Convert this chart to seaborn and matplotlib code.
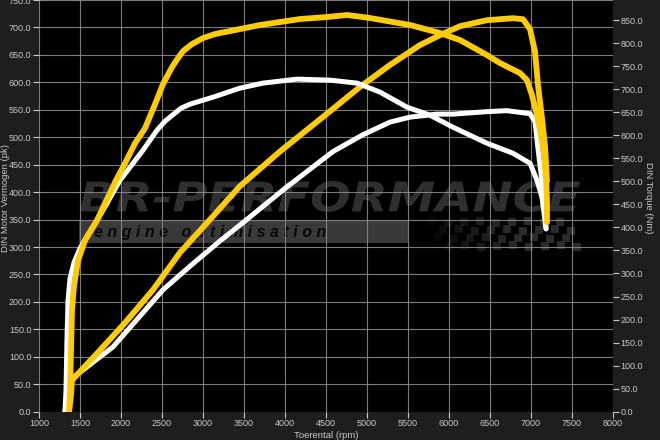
import numpy as np
import pandas as pd
import matplotlib
matplotlib.use("Agg")
import matplotlib.pyplot as plt
import seaborn as sns
from matplotlib.patches import Rectangle, PathPatch
from matplotlib.textpath import TextPath
from matplotlib.font_manager import FontProperties
from matplotlib.transforms import Affine2D

# ---- data ----
# Yellow run: torque (Nm, right axis)
y_torque_rpm = [1366, 1378, 1390, 1402, 1427, 1476, 1561, 1707, 1939, 2049, 2171, 2293, 2415, 2512, 2622,
                2695, 2756, 2866, 3000, 3146, 3329, 3695, 4183, 4512, 4756, 5037, 5524, 5890, 6134, 6463,
                6622, 6866, 6951, 7012, 7073, 7122, 7159, 7183, 7195, 7195]
y_torque_nm = [0, 45.7, 132.8, 219.6, 273.9, 328.3, 371.8, 415.2, 502.2, 539.2, 582.6, 615.2, 667.4, 710.9, 747.9,
               767.4, 782.6, 797.9, 810.9, 819.6, 826.1, 839.2, 852.2, 856.6, 860.9, 854.4, 839.2, 821.8, 806.6, 773.9,
               756.6, 734.8, 719.6, 687.0, 643.5, 600.0, 556.5, 502.2, 458.7, 410.9]
# Yellow run: power (pk, left axis)
y_power_rpm = [1366, 1390, 1402, 1744, 2049, 2390, 2720, 3085, 3451, 3939, 4512, 4915, 5280, 5646, 5890,
               6134, 6463, 6780, 6902, 6988, 7049, 7085, 7134, 7171, 7195]
y_power_pk = [0, 30.3, 57.4, 112.0, 162.0, 222.0, 290.0, 350.0, 411.0, 474.1, 542.9, 591.8, 631.6, 667.9, 686.0,
              702.3, 713.2, 716.8, 715.0, 696.9, 655.3, 595.5, 533.9, 483.2, 419.8]
# White run: torque (Nm, right axis)
w_torque_rpm = [1317, 1329, 1341, 1354, 1378, 1427, 1500, 1598, 1744, 1988, 2268, 2439, 2537, 2732, 2841,
                3122, 3451, 3732, 4146, 4549, 4878, 5159, 5488, 5768, 6049, 6463, 6780, 6988, 7073, 7134,
                7171, 7183]
w_torque_nm = [0, 45.7, 154.4, 241.3, 289.1, 323.9, 354.4, 384.8, 426.1, 502.2, 567.4, 610.9, 630.5, 658.7, 667.4,
               682.6, 702.2, 713.1, 721.8, 719.6, 713.1, 693.5, 660.9, 643.5, 617.4, 582.6, 560.9, 539.2, 502.2,
               465.2, 415.2, 397.8]
# White run: power (pk, left axis)
w_power_rpm = [1317, 1341, 1402, 1902, 2354, 2512, 2841, 3207, 3451, 3999, 4585, 4951, 5280, 5524, 5854,
               6049, 6463, 6707, 6988, 7049, 7085, 7134, 7171, 7183]
w_power_pk = [0, 30.3, 60.5, 118.0, 195.0, 222.0, 265.0, 311.0, 340.0, 406.7, 473.9, 504.6, 527.5, 536.6, 542.1,
              542.1, 546.6, 548.4, 542.9, 528.4, 479.5, 419.8, 360.1, 332.9]

x_ticks = list(range(1000, 8001, 500))
left_ticks = list(range(0, 751, 50))
right_ticks = list(range(0, 851, 50))

YELLOW = "#FFCC00"
WHITE = "#FFFFFF"
FIG_BG = "#1e1e1e"
TXT = "#c8c8c8"
GRID = "#8a8a8a"
WM = "#2f2f2f"

sns.set_style("dark")
plt.rcParams["font.family"] = ["Liberation Sans", "DejaVu Sans"]

fig = plt.figure(figsize=(6.6, 4.4), dpi=100, facecolor=FIG_BG)
ax = fig.add_axes([39 / 660, (440 - 411.7) / 440, 574 / 660, 411.7 / 440])
ax.set_facecolor("black")
ax2 = ax.twinx()

# ---- watermark (stretched logo text, band, checkered flag) ----
fp = FontProperties(family="DejaVu Sans", weight="bold", style="italic")
tp = TextPath((0, 0), "BR-PERFORMANCE", size=10, prop=fp)
ext = tp.get_extents()
bw = 500 / 574
by0, bh = (411.7 - 212) / 411.7, 31 / 411.7
tr = (Affine2D().translate(-ext.x0, -ext.y0)
      .scale(bw / ext.width, bh / ext.height)
      .translate((80 - 39) / 574, by0) + ax.transAxes)
ax.add_patch(PathPatch(tp, transform=tr, facecolor=WM, edgecolor="none", zorder=0.2))
ax.add_patch(Rectangle(((79 - 39) / 574, (411.7 - 243) / 411.7), 329 / 574, 23 / 411.7,
                       transform=ax.transAxes, facecolor="#393939", edgecolor="none", zorder=0.2))
ax.text((94 - 39) / 574, (411.7 - 232) / 411.7, "e n g i n e   o p t i m i s a t i o n",
        transform=ax.transAxes, fontsize=11.5, fontweight="bold", fontstyle="italic",
        color="#080808", va="center", ha="left", zorder=0.25)
# checkered flag
cell = 8
for r in range(4):
    for c in range(18):
        if (r + c) % 2:
            continue
        px = 428 + c * cell + r * 3
        py = 217 + r * cell + (c % 3)
        alpha = min(1.0, 0.2 + c / 12)
        ax.add_patch(Rectangle(((px - 39) / 574, (411.7 - py - cell) / 411.7), cell / 574, cell / 411.7,
                               transform=ax.transAxes, facecolor="#2b2b2b", alpha=alpha,
                               edgecolor="none", zorder=0.2))

df_wp = pd.DataFrame({"rpm": w_power_rpm, "val": w_power_pk})
df_yp = pd.DataFrame({"rpm": y_power_rpm, "val": y_power_pk})
df_wt = pd.DataFrame({"rpm": w_torque_rpm, "val": w_torque_nm})
df_yt = pd.DataFrame({"rpm": y_torque_rpm, "val": y_torque_nm})

sns.lineplot(data=df_wp, x="rpm", y="val", ax=ax, sort=False, estimator=None, color=WHITE, lw=3.6, zorder=3)
sns.lineplot(data=df_yp, x="rpm", y="val", ax=ax, sort=False, estimator=None, color=YELLOW, lw=4.2, zorder=4)
sns.lineplot(data=df_wt, x="rpm", y="val", ax=ax2, sort=False, estimator=None, color=WHITE, lw=3.6, zorder=3)
sns.lineplot(data=df_yt, x="rpm", y="val", ax=ax2, sort=False, estimator=None, color=YELLOW, lw=4.2, zorder=4)

for a in (ax, ax2):
    a.set_xlim(1000, 8000)
    for s in a.spines.values():
        s.set_visible(False)
ax.set_ylim(0, 745.8)
ax2.set_ylim(0, 893.5)

ax.set_xticks(x_ticks)
ax.set_xticklabels([str(t) for t in x_ticks])
ax.set_yticks(left_ticks)
ax.set_yticklabels([f"{t:.1f}" for t in left_ticks])
ax2.set_yticks(right_ticks)
ax2.set_yticklabels([f"{t:.1f}" for t in right_ticks])

ax.grid(True, color=GRID, lw=0.8, alpha=0.9)
ax.set_axisbelow(True)
ax2.grid(False)

ax.tick_params(axis="both", colors=TXT, labelsize=6.5, length=4, width=0.8, direction="out",
               bottom=True, left=True, pad=1.5)
ax2.tick_params(axis="y", colors=TXT, labelsize=6.5, length=4, width=0.8, direction="out", right=True, pad=1.5)

ax.set_xlabel("Toerental (rpm)", color=TXT, fontsize=6.8)
ax.set_ylabel("DIN Motor Vermogen (pk)", color=TXT, fontsize=6.8)
ax2.set_ylabel("DIN Torque (Nm)", color=TXT, fontsize=6.8, rotation=270, va="center")
ax.xaxis.set_label_coords(0.5, -0.047)
ax.yaxis.set_label_coords(-0.0505, 0.52)
ax2.yaxis.set_label_coords(1.061, 0.52)

fig.savefig("out.png", dpi=100, facecolor=FIG_BG)
